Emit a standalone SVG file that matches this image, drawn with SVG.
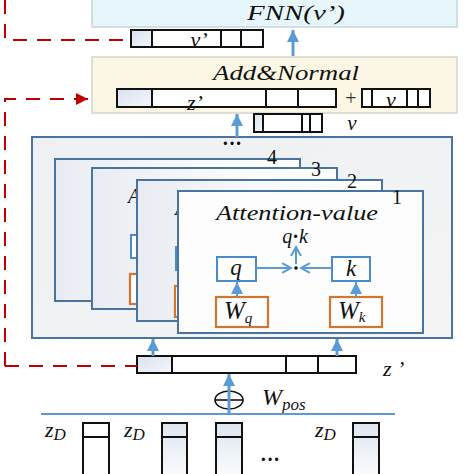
<svg xmlns="http://www.w3.org/2000/svg" width="474" height="474" viewBox="0 0 474 474">
<defs>
<style>
.it{font-family:"Liberation Serif","Times New Roman",serif;font-style:italic;fill:#111}
.num{font-family:"Liberation Serif","Times New Roman",serif;fill:#111;font-size:20px}
.vec{fill:#fff;stroke:#111;stroke-width:2}
.cell{fill:url(#cellg);stroke:#111;stroke-width:2}
.div{stroke:#111;stroke-width:2}
.card{stroke:#4a74a0;stroke-width:2}
.bl{stroke:#5b9bd5;stroke-width:3;fill:none}
.red{stroke:#c00000;stroke-width:2;fill:none;stroke-dasharray:14,10}
.qb{fill:#fff;stroke:#4b8cc8;stroke-width:2}
.wb{fill:#fff;stroke:#d0762f;stroke-width:2.2}
.thin{stroke:#5b9bd5;stroke-width:2;fill:none}
</style>
<linearGradient id="cellg" x1="0" y1="0" x2="1" y2="1"><stop offset="0" stop-color="#d9e2ee"/><stop offset="1" stop-color="#f4f7fb"/></linearGradient>
<linearGradient id="colg" x1="0" y1="0" x2="0" y2="1"><stop offset="0" stop-color="#dde5f0"/><stop offset="1" stop-color="#ffffff"/></linearGradient>
<linearGradient id="cardg" x1="0" y1="0" x2="1" y2="0"><stop offset="0" stop-color="#e8ecf2"/><stop offset="0.5" stop-color="#f8f9fb"/><stop offset="1" stop-color="#ffffff"/></linearGradient>
<linearGradient id="bigg" x1="0" y1="0" x2="1" y2="1"><stop offset="0" stop-color="#eef0f3"/><stop offset="1" stop-color="#f4f4f4"/></linearGradient>
<marker id="ab" markerUnits="userSpaceOnUse" markerWidth="14" markerHeight="12" refX="12" refY="6" orient="auto"><path d="M0,0 L12,6 L0,12 Z" fill="#5b9bd5"/></marker>
<marker id="ar" markerUnits="userSpaceOnUse" markerWidth="14" markerHeight="12" refX="12" refY="6" orient="auto"><path d="M0,0 L12,6 L0,12 Z" fill="#c00000"/></marker>
<marker id="ao" markerUnits="userSpaceOnUse" markerWidth="12" markerHeight="12" refX="9" refY="6" orient="auto"><path d="M0,1 L9,6 L0,11" fill="none" stroke="#5b9bd5" stroke-width="2"/></marker>
</defs>
<rect width="474" height="474" fill="#fff"/>

<g id="fnn">
<rect x="92" y="-5" width="365" height="32" fill="#e6f6fb" stroke="#c5d6e2" stroke-width="1.5"/>
<text class="it" x="296" y="20" font-size="21" text-anchor="middle" textLength="98" lengthAdjust="spacingAndGlyphs">FNN(v’)</text>
</g>

<g id="vprime">
<rect class="vec" x="131" y="30" width="132" height="17"/>
<rect class="cell" x="131" y="30" width="21" height="17"/>
<line class="div" x1="221" y1="30" x2="221" y2="47"/>
<line class="div" x1="241" y1="30" x2="241" y2="47"/>
<text class="it" x="199" y="47" font-size="22" text-anchor="middle">v’</text>
</g>

<g id="addnormal">
<rect x="92" y="57" width="365" height="56" fill="#fcf6e4" stroke="#d8d4cc" stroke-width="1.5"/>
<text class="it" x="286" y="80" font-size="21" text-anchor="middle" textLength="146" lengthAdjust="spacingAndGlyphs">Add&amp;Normal</text>
<rect class="vec" x="117" y="89" width="219" height="18"/>
<rect class="cell" x="117" y="89" width="35" height="18"/>
<line class="div" x1="266" y1="89" x2="266" y2="107"/>
<line class="div" x1="298" y1="89" x2="298" y2="107"/>
<text class="it" x="195" y="110" font-size="22" text-anchor="middle">z’</text>
<text x="351" y="105" font-size="20" text-anchor="middle" font-family="Liberation Serif, serif" fill="#333">+</text>
<rect class="vec" x="362" y="89" width="68" height="18"/>
<line class="div" x1="372" y1="89" x2="372" y2="107"/>
<line class="div" x1="407" y1="89" x2="407" y2="107"/>
<line class="div" x1="418" y1="89" x2="418" y2="107"/>
<text class="it" x="391" y="107" font-size="22" text-anchor="middle">v</text>
</g>

<g id="vsmall">
<rect class="vec" x="254" y="114" width="68" height="18"/>
<rect class="cell" x="254" y="114" width="9" height="18"/>
<line class="div" x1="302" y1="114" x2="302" y2="132"/>
<line class="div" x1="310" y1="114" x2="310" y2="132"/>
<text class="it" x="352" y="130" font-size="21" text-anchor="middle">v</text>
</g>

<g id="multihead">
<rect x="32" y="137" width="420" height="201" fill="url(#bigg)" class="card"/>
<text class="num" x="232" y="150" text-anchor="middle" font-size="20" font-weight="bold">···</text>
</g>

<g id="head4">
<rect x="55" y="159" width="245" height="142" fill="url(#cardg)" class="card"/>
<text class="num" x="267" y="164">4</text>
</g>
<g id="head3">
<rect x="92" y="168" width="245" height="141" fill="url(#cardg)" class="card"/>
<text class="num" x="311" y="176">3</text>
<text class="it" x="128" y="203" font-size="20">A</text>
<rect class="qb" x="131" y="235" width="20" height="23"/>
<rect class="wb" x="130" y="274" width="20" height="30"/>
</g>
<g id="head2">
<rect x="137" y="180" width="245" height="141" fill="url(#cardg)" class="card"/>
<text class="num" x="347" y="188">2</text>
<text class="it" x="175" y="215" font-size="20">A</text>
<rect class="qb" x="176" y="247" width="20" height="23"/>
<rect class="wb" x="175" y="286" width="20" height="31"/>
</g>
<g id="head1">
<rect x="178" y="191" width="245" height="142" fill="#fdfdfe" class="card"/>
<text class="num" x="392" y="204">1</text>
<text class="it" x="297" y="220" font-size="21" text-anchor="middle" textLength="162" lengthAdjust="spacingAndGlyphs">Attention-value</text>
<text class="it" x="295" y="243" font-size="20" text-anchor="middle">q<tspan font-style="normal" font-weight="bold">·</tspan>k</text>
<circle cx="296" cy="268" r="1.8" fill="#111"/>
</g>

<g id="q">
<rect class="qb" x="217" y="257" width="39" height="24"/>
<text class="it" x="236" y="275" font-size="23" text-anchor="middle">q</text>
</g>
<g id="k">
<rect class="qb" x="332" y="257" width="38" height="24"/>
<text class="it" x="351" y="276" font-size="23" text-anchor="middle">k</text>
</g>
<g id="wq">
<rect class="wb" x="216" y="297" width="52" height="30"/>
<text class="it" x="224" y="319" font-size="25">W<tspan font-size="15" dy="4">q</tspan></text>
</g>
<g id="wk">
<rect class="wb" x="330" y="297" width="52" height="30"/>
<text class="it" x="338" y="319" font-size="25">W<tspan font-size="15" dy="3">k</tspan></text>
</g>

<g id="zprime">
<rect class="vec" x="137" y="356" width="219" height="17"/>
<rect class="cell" x="137" y="356" width="35" height="17"/>
<line class="div" x1="286" y1="356" x2="286" y2="373"/>
<line class="div" x1="318" y1="356" x2="318" y2="373"/>
<text class="it" x="383" y="376" font-size="22">z ’</text>
</g>

<g id="wpos">
<ellipse cx="229" cy="400" rx="14" ry="9" fill="none" stroke="#111" stroke-width="1.6"/>
<line x1="215" y1="400" x2="243" y2="400" stroke="#111" stroke-width="1.6"/>
<text class="it" x="262" y="405" font-size="24">W<tspan font-size="17" dy="5">pos</tspan></text>
</g>

<g id="tokens">
<line x1="41" y1="414" x2="395" y2="414" stroke="#5b9bd5" stroke-width="2"/>
<rect x="83" y="423" width="26" height="60" fill="#fff" stroke="#111" stroke-width="2"/>
<line class="div" x1="83" y1="437" x2="109" y2="437"/>
<text class="it" x="45" y="437" font-size="22">z<tspan font-size="17" dy="3">D</tspan></text>
<rect x="162" y="423" width="25" height="60" fill="url(#colg)" stroke="#111" stroke-width="2"/>
<line class="div" x1="162" y1="437" x2="187" y2="437"/>
<text class="it" x="124" y="437" font-size="22">z<tspan font-size="17" dy="3">D</tspan></text>
<rect x="216" y="423" width="26" height="60" fill="url(#colg)" stroke="#111" stroke-width="2"/>
<line class="div" x1="216" y1="437" x2="242" y2="437"/>
<rect x="353" y="423" width="26" height="60" fill="url(#colg)" stroke="#111" stroke-width="2"/>
<line class="div" x1="353" y1="437" x2="379" y2="437"/>
<text class="it" x="315" y="437" font-size="22">z<tspan font-size="17" dy="3">D</tspan></text>
<text class="num" x="270" y="466" text-anchor="middle" font-size="20" font-weight="bold">···</text>
</g>

<g id="connectors">
<line class="bl" x1="293" y1="56" x2="293" y2="30" marker-end="url(#ab)"/>
<line class="bl" x1="237" y1="137" x2="237" y2="114" marker-end="url(#ab)"/>
<line class="bl" x1="153" y1="356" x2="153" y2="339" marker-end="url(#ab)"/>
<line class="bl" x1="337" y1="356" x2="337" y2="339" marker-end="url(#ab)"/>
<line class="bl" x1="229" y1="414" x2="229" y2="374" marker-end="url(#ab)"/>
<line class="thin" x1="237" y1="297" x2="237" y2="282" marker-end="url(#ab)"/>
<line class="thin" x1="356" y1="297" x2="356" y2="282" marker-end="url(#ab)"/>
<line class="thin" x1="256" y1="268" x2="291" y2="268" marker-end="url(#ao)"/>
<line class="thin" x1="332" y1="268" x2="301" y2="268" marker-end="url(#ao)"/>
<line class="thin" x1="296" y1="264" x2="296" y2="247" marker-end="url(#ao)"/>
<path class="red" d="M5,0 L5,40 L131,40"/>
<path class="red" d="M5,366 L5,99 L88,99" marker-end="url(#ar)"/>
<path class="red" d="M5,366 L137,366"/>
</g>
</svg>
